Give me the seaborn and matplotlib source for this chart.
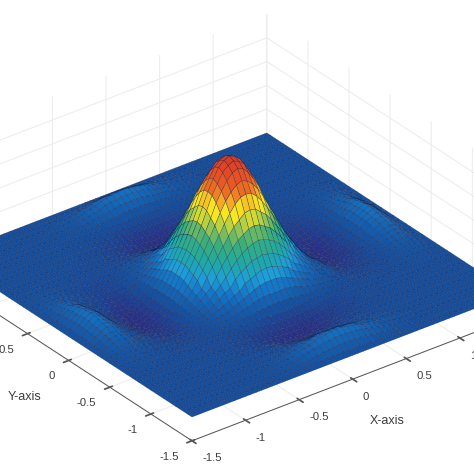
import numpy as np
import matplotlib
matplotlib.use("Agg")
import matplotlib.pyplot as plt
import seaborn as sns
from matplotlib.colors import LinearSegmentedColormap, Normalize
from mpl_toolkits.mplot3d import proj3d

# Heights, in hundredths, on a 0.05 grid.
# Row i holds columns j = i, i+1, ...; missing trailing entries are 0.
height_rows = [
 [100,98,94,86,77,66,55,45,35,26,18,10,4,-2,-6,-9,-11,-12,-11,-9,-6,-3,0,4,8,11,13,10,6,2,0],
 [96,92,84,76,65,54,44,34,26,18,10,4,-2,-6,-9,-11,-12,-11,-9,-6,-3,0,4,8,11,13,10,6,2,0],
 [87,80,72,61,51,42,33,24,17,10,4,-2,-6,-8,-10,-11,-10,-8,-6,-3,0,4,8,10,12,9,6,2,0],
 [74,66,57,48,39,30,22,15,9,3,-1,-4,-8,-10,-10,-10,-8,-5,-3,0,3,7,10,11,9,5,2,0],
 [59,51,43,35,27,20,13,8,3,-1,-4,-7,-9,-9,-9,-7,-5,-2,0,3,6,9,10,8,5,2,0],
 [44,37,30,23,15,11,6,2,0,-4,-6,-8,-8,-7,-6,-4,-2,0,3,5,7,8,7,4,1,0],
 [31,24,17,13,9,5,2,0,-3,-5,-7,-7,-6,-5,-3,-2,0,2,5,6,7,6,3,1,0],
 [19,15,10,7,4,2,-1,-3,-5,-6,-6,-5,-4,-3,-1,0,2,4,5,6,5,3,1,0],
 [11,8,5,3,2,0,-2,-4,-4,-4,-4,-3,-2,-1,0,1,3,4,4,4,2,1,0],
 [6,4,2,1,-1,-2,-3,-3,-3,-3,-3,-2,-1,0,1,2,3,3,3,2,1,0],
 [3,2,0,-1,-2,-2,-3,-3,-2,-2,-1,-1,0,1,2,2,3,2,1,0,0],
 [1,0,-1,-1,-2,-2,-2,-2,-1,-1,0,0,1,1,2,2,2,1,0,0],
 [-1,-1,-1,-1,-1,-1,-1,-1,-1,0,0,0,1,1,1,1,1,0,0],
 [-1,-1,-1,-1,-1,-1,-1,0,0,0,0,1,1,1,1,0,0,0],
 [-1,-1,-1,-1,-1,0,0,0,0,0,0,1,1,0,0,0,0],
 [-1,-1,0,0,0,0,0,0,0,0,0,0,0,0,0,0],
]
grid_x = np.round(np.arange(-30, 31) * 0.05, 2)

x_ticks = [-1.5, -1, -0.5, 0, 0.5, 1, 1.5]
y_ticks = [-1.5, -1, -0.5, 0, 0.5, 1, 1.5]
z_ticks = [-0.2, 0, 0.2, 0.4, 0.6, 0.8]
x_tick_labels = ["-1.5", "-1", "-0.5", "0", "0.5", "1", "1.5"]
y_tick_labels = ["-1.5", "-1", "-0.5", "0", "0.5", "1", "1.5"]
z_tick_labels = ["-0.2", "0", "0.2", "0.4", "0.6", "0.8"]
colour_levels = [-0.12, 0.0, 0.07, 0.14, 0.22, 0.33, 0.45, 0.56, 0.63, 0.68, 0.74, 0.82, 0.95, 1.0]
colour_values = ["#2a2f85", "#14509f", "#1462b2", "#1478c8", "#1ea0d8", "#1eaaa0", "#3cae78",
                 "#a0c84c", "#fae61e", "#fae61e", "#f5a028", "#eb5f23", "#e04428", "#c83c28"]

sns.set_theme(style="white", rc={
    "grid.color": "#ebebeb", "grid.linewidth": 0.7,
    "font.family": ["Liberation Sans", "DejaVu Sans"],
    "text.color": "#3c3c3c", "axes.labelcolor": "#3c3c3c",
    "xtick.color": "#3c3c3c", "ytick.color": "#3c3c3c",
})
z_lo, z_hi = colour_levels[0], colour_levels[-1]
cmap = LinearSegmentedColormap.from_list(
    "surface", [((v - z_lo) / (z_hi - z_lo), c) for v, c in zip(colour_levels, colour_values)])

# Assemble the full grid by mirroring the table (the surface is symmetric)
n = 31
quadrant = np.zeros((n, n))
for i, row in enumerate(height_rows):
    for k, v in enumerate(row):
        quadrant[i, i + k] = v
        quadrant[i + k, i] = v
idx = np.abs(np.arange(-30, 31))
Z = quadrant[np.ix_(idx, idx)] / 100.0
X, Y = np.meshgrid(grid_x, grid_x)

fig = plt.figure(figsize=(4.74, 4.74), dpi=100)
ax = fig.add_axes([0, 0, 1, 1], projection="3d", proj_type="ortho")
ax.view_init(elev=30, azim=-127.5)
ax.set_box_aspect((408, 408, 166))
ax.set_xlim(-1.5, 1.5)
ax.set_ylim(-1.5, 1.5)
ax.set_zlim(-0.2, 1.0)

ax.plot_surface(X, Y, Z, rstride=1, cstride=1, cmap=cmap,
                norm=Normalize(z_lo, z_hi), edgecolor=(0.07, 0.10, 0.28, 0.6),
                linewidth=0.3, antialiased=True, shade=False)

ax.set_xticks(x_ticks, x_tick_labels, fontsize=8.2)
ax.set_yticks(y_ticks, y_tick_labels, fontsize=8.2)
ax.set_zticks(z_ticks, z_tick_labels, fontsize=8.2)
for lab in ax.get_xticklabels():
    lab.set_ha("left")
for lab in ax.get_yticklabels():
    lab.set_ha("right")
ax.xaxis.set_rotate_label(False)
ax.yaxis.set_rotate_label(False)
ax.set_xlabel("X-axis", fontsize=9, rotation=0, labelpad=9)
ax.set_ylabel("Y-axis", fontsize=9, rotation=0, labelpad=9)
ax.tick_params(axis="x", pad=1, color="#555555")
ax.tick_params(axis="y", pad=1, color="#555555")
for a in (ax.xaxis, ax.yaxis, ax.zaxis):
    a.set_pane_color((1, 1, 1, 1))
    a.pane.set_edgecolor("none")
    a.line.set_color("#555555")
    a.line.set_linewidth(0.7)
ax.zaxis.line.set_color("#ffffff")
ax.grid(True)

# Place the axes so the plot box lands where it sits in the picture
def screen(px, py, pz):
    fig.canvas.draw()
    u, v, _ = proj3d.proj_transform(px, py, pz, ax.get_proj())
    return np.array(ax.transData.transform((u, v)))

target_front = np.array([192.0, 474 - 417.0])
target_back = np.array([267.0, 474 - 133.0])
l, b, w = 0.0, 0.0, 1.0
for _ in range(3):
    p0, p1 = screen(-1.5, -1.5, 0), screen(1.5, 1.5, 0)
    k = np.linalg.norm(target_back - target_front) / np.linalg.norm(p1 - p0)
    w *= k
    ax.set_position([l, b, w, w])
    p0 = screen(-1.5, -1.5, 0)
    d = (target_front - p0) / 474
    l += d[0]
    b += d[1]
    ax.set_position([l, b, w, w])

fig.savefig("out.png", dpi=100, facecolor="white")
